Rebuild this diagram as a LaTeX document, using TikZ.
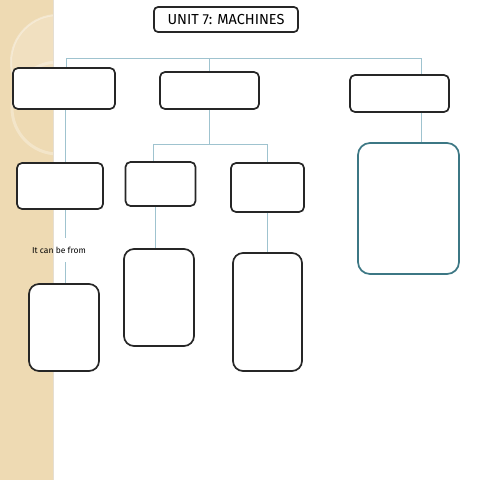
\documentclass[tikz,border=0pt]{standalone}
\usepackage{fontspec}
\setmainfont{Fira Sans}
\begin{document}
\begin{tikzpicture}[x=1pt,y=-1pt,
  box/.style={draw=black!85,line width=1.7pt,rounded corners=5pt,fill=white,inner sep=0pt,anchor=center},
  tallbox/.style={box,rounded corners=10pt},
  conn/.style={draw=linec,line width=1pt}]
\definecolor{band}{HTML}{EEDAB3}
\definecolor{linec}{HTML}{9FC3CF}
\definecolor{tealc}{HTML}{3C7784}
\useasboundingbox (0,0) rectangle (480,480);
\fill[white] (0,0) rectangle (480,480);
\fill[band] (0,0) rectangle (53,480);
\begin{scope}
\clip (0,0) rectangle (53,480);
\fill[white,opacity=0.18] (58,62) circle (47);
\draw[white,opacity=0.35,line width=2pt] (58,62) circle (47);
\draw[white,opacity=0.3,line width=3pt] (58,108) circle (46);
\end{scope}
\draw[band!80!black,line width=0.6pt,opacity=0.4] (53,0) -- (53,480);
% nodes
\node[box,rounded corners=4pt,minimum width=144,minimum height=25,font=\fontsize{14.5}{16}\selectfont] (title) at (226,19.5) {UNIT 7: MACHINES};
\coordinate (hl) at (66,58);
\coordinate (hm) at (209.5,58);
\coordinate (hr) at (421,58);
\coordinate (cl) at (65,0);
\coordinate (bl) at (153,144);
\coordinate (br) at (267,144);
\coordinate (bm) at (209.5,144);
\coordinate (cal) at (155,0);
% connectors (drawn before boxes)
\draw[conn] (hl) -- (hr);
\draw[conn] (hl) -- ++(0,10);
\draw[conn] (hm) -- ++(0,14);
\draw[conn] (hr) -- ++(0,17);
\draw[conn] (bl) -- (br);
\node[box,minimum width=102,minimum height=41] (b1) at (64,88.5) {};
\node[box,minimum width=99,minimum height=37] (b2) at (209.5,90.5) {};
\node[box,minimum width=99,minimum height=37] (b3) at (399.5,93.5) {};
\node[box,minimum width=86,minimum height=46] (b1a) at (60,186) {};
\node[font=\fontsize{8.5}{10}\selectfont,minimum height=24,inner sep=0pt] (lab) at (59,250) {It can be from};
\node[tallbox,minimum width=70,minimum height=87] (b1b) at (64,327.5) {};
\node[box,minimum width=70,minimum height=44] (b2a) at (160.5,184) {};
\node[box,minimum width=73,minimum height=49] (b2b) at (267.5,187.5) {};
\node[tallbox,minimum width=70,minimum height=97] (b2ac) at (159,297.5) {};
\node[tallbox,minimum width=69,minimum height=118] (b2bc) at (267.5,312) {};
\node[tallbox,draw=tealc,minimum width=101,minimum height=131,rounded corners=12pt] (b3c) at (408.5,208.5) {};
\draw[conn] (b1.south -| cl) -- (b1a.north -| cl);
\draw[conn] (b1a.south -| cl) -- (lab.north -| cl);
\draw[conn] (lab.south -| cl) -- (b1b.north -| cl);
\draw[conn] (b2.south) -- (bm);
\draw[conn] (bl) -- (b2a.north -| bl);
\draw[conn] (br) -- (b2b.north -| br);
\draw[conn] (b2a.south -| cal) -- (b2ac.north -| cal);
\draw[conn] (b2b.south -| br) -- (b2bc.north -| br);
\draw[conn] (b3.south -| hr) -- (b3c.north -| hr);
\end{tikzpicture}
\end{document}
